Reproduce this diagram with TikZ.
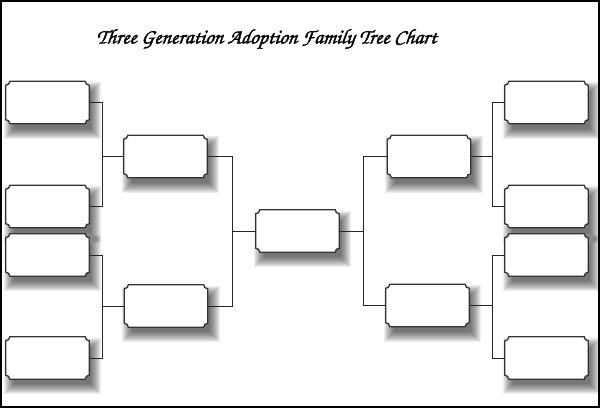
\documentclass[tikz,border=0pt]{standalone}
\usepackage{fontspec}
\usetikzlibrary{calc}
\newfontfamily\chartfont[FakeBold=1.6, FakeSlant=0.12]{TeX Gyre Chorus}
\tikzset{
  card/.style={minimum width=83pt, minimum height=42pt, inner sep=0pt},
  cardline/.style={line width=1.3pt, draw=black!80, fill=white},
  link/.style={line width=0.9pt, draw=black!85},
}
% soft shadow below right of a card
\newcommand{\cardshadow}[1]{
  \foreach \m in {7,6,...,-3}
    \fill[black, opacity=0.065] ($(#1.south west)+(5-\m,-8-\m)$) rectangle ($(#1.north east)+(5+\m,-8+\m)$);
}
% outline with hollow corners
\newcommand{\cardedge}[1]{
  \draw[cardline] ($(#1.north west)+(4,0)$) -- ($(#1.north east)+(-4,0)$)
    arc[start angle=180, end angle=270, radius=4pt] -- ($(#1.south east)+(0,4)$)
    arc[start angle=90, end angle=180, radius=4pt] -- ($(#1.south west)+(4,0)$)
    arc[start angle=0, end angle=90, radius=4pt] -- ($(#1.north west)+(0,-4)$)
    arc[start angle=270, end angle=360, radius=4pt] -- cycle;
}
\begin{document}
\begin{tikzpicture}[x=1pt, y=1pt]
  \useasboundingbox (0,0) rectangle (600,408);
  \draw[line width=1.8pt] (0.9,0.9) rectangle (599.1,407.1);
  \node[font=\chartfont\fontsize{21}{24}\selectfont] (title) at (266,369) {Three Generation Adoption Family Tree Chart};
  % grandparents
  \foreach \n/\y in {1/305.5, 2/201.5, 3/153, 4/50} {
    \node[card] (L\n) at (47.5,\y) {};
    \node[card] (R\n) at (546.5,\y) {};
  }
  % parents and child
  \node[card] (M1) at (165.5,251.5) {};
  \node[card] (M2) at (166,102) {};
  \node[card] (M3) at (429,251.5) {};
  \node[card] (M4) at (427.5,102.5) {};
  \node[card] (C) at (297.5,177) {};
  \foreach \c in {L1,L2,L3,L4,R1,R2,R3,R4,M1,M2,M3,M4,C}
    \cardshadow{\c};
  \foreach \c in {L1,L2,L3,L4,R1,R2,R3,R4,M1,M2,M3,M4,C}
    \cardedge{\c};
  % brackets
  \coordinate (kL) at (102,0);
  \coordinate (kC) at (232,0);
  \coordinate (kD) at (363,0);
  \coordinate (kR) at (492,0);
  \foreach \a/\b/\m/\k in {L1/L2/M1/kL, L3/L4/M2/kL, M1/M2/C/kC} {
    \draw[link] (\a.east) -| (\k |- \b.east) -- (\b.east);
    \draw[link] (\k |- \m.west) -- (\m.west);
  }
  \foreach \a/\b/\m/\k in {R1/R2/M3/kR, R3/R4/M4/kR, M3/M4/C/kD} {
    \draw[link] (\a.west) -| (\k |- \b.west) -- (\b.west);
    \draw[link] (\k |- \m.east) -- (\m.east);
  }
\end{tikzpicture}
\end{document}
